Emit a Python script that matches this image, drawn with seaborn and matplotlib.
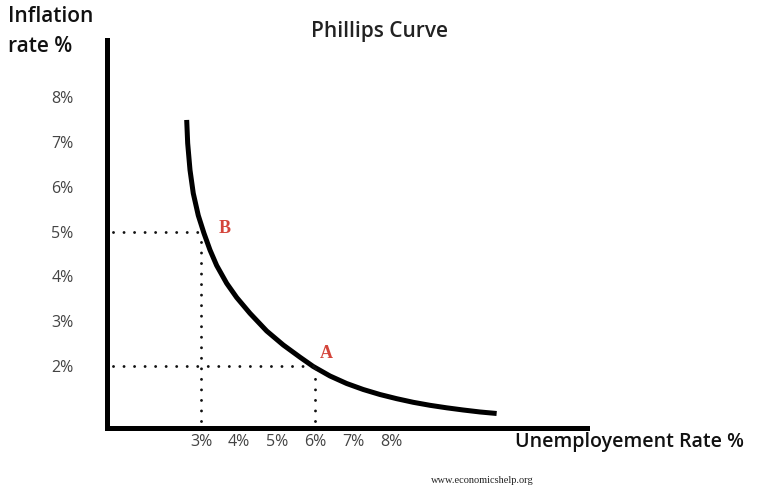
import matplotlib
matplotlib.use("Agg")
import matplotlib.pyplot as plt
import seaborn as sns
import pandas as pd

# curve (unemployment %, inflation %)
unemployment = [2.624, 2.650, 2.711, 2.797, 2.929, 3.079, 3.237, 3.413, 3.676, 3.939,
                4.289, 4.729, 5.166, 5.605, 5.955, 6.395, 6.834, 7.271, 7.711, 8.150,
                8.587, 9.026, 9.466, 9.903, 10.342, 10.782]
inflation = [7.495, 6.974, 6.378, 5.857, 5.362, 4.964, 4.591, 4.245, 3.847, 3.530,
             3.177, 2.782, 2.469, 2.197, 1.989, 1.777, 1.609, 1.475, 1.363, 1.270,
             1.189, 1.122, 1.066, 1.017, 0.973, 0.939]

# marked points on the curve
point_names = ["B", "A"]
point_u = [3, 6]
point_inf = [5, 2]

x_ticks = [3, 4, 5, 6, 7, 8]
y_ticks = [2, 3, 4, 5, 6, 7, 8]

sns.set_theme(style="white")
plt.rcParams["font.family"] = ["Open Sans", "DejaVu Sans"]

df = pd.DataFrame({"u": unemployment, "inf": inflation})

fig = plt.figure(figsize=(7.68, 4.94), dpi=100)
ax = fig.add_axes([0.1393, 0.1336, 0.625, 0.7854])

sns.lineplot(data=df, x="u", y="inf", ax=ax, color="black", linewidth=3.6,
             sort=False, solid_capstyle="butt", solid_joinstyle="round")

xmin, xmax = 0.526, 13.16
ymin, ymax = 0.615, 9.28
ax.set_xlim(xmin, xmax)
ax.set_ylim(ymin, ymax)

# dotted guide lines
dot = dict(color="#111111", linewidth=2.1, linestyle=(0, (0.01, 3.6)),
           dash_capstyle="round")
for name, u, r in zip(point_names, point_u, point_inf):
    ax.plot([xmin + 0.15, u], [r, r], **dot)
    ax.plot([u, u], [ymin + 0.15, r], **dot)

offsets = {"B": (17, 2), "A": (8, 9)}
for name, u, r in zip(point_names, point_u, point_inf):
    ax.annotate(name, (u, r), xytext=offsets[name], textcoords="offset points",
                color="#d4453b", fontsize=13, fontweight="bold", family="Liberation Serif",
                ha="center", va="center")

ax.set_xticks(x_ticks)
ax.set_xticklabels([f"{v}%" for v in x_ticks])
ax.set_yticks(y_ticks)
ax.set_yticklabels([f"{v}%" for v in y_ticks])
ax.tick_params(axis="y", length=0, pad=24, labelsize=11.5, labelcolor="#444444")
ax.tick_params(axis="x", length=0, pad=4, labelsize=11.5, labelcolor="#444444")
ax.set_xlabel("")
ax.set_ylabel("")

for side in ["top", "right"]:
    ax.spines[side].set_visible(False)
for side in ["left", "bottom"]:
    ax.spines[side].set_linewidth(3.6)
    ax.spines[side].set_color("black")
    ax.spines[side].set_capstyle("projecting")

fig.text(0.494, 0.936, "Phillips Curve", ha="center", va="center", fontsize=15,
         fontweight="semibold", color="#222222")
fig.text(0.010, 0.988, "Inflation\nrate %", ha="left", va="top", fontsize=15,
         fontweight="semibold", color="#111111", linespacing=1.55)
fig.text(0.671, 0.105, "Unemployement Rate %", ha="left", va="center", fontsize=14.1,
         fontweight="semibold", color="#111111")
fig.text(0.561, 0.027, "www.economicshelp.org", ha="left", va="center", fontsize=7.5,
         family="Liberation Serif", color="#222222")

fig.savefig("out.png", dpi=100)
